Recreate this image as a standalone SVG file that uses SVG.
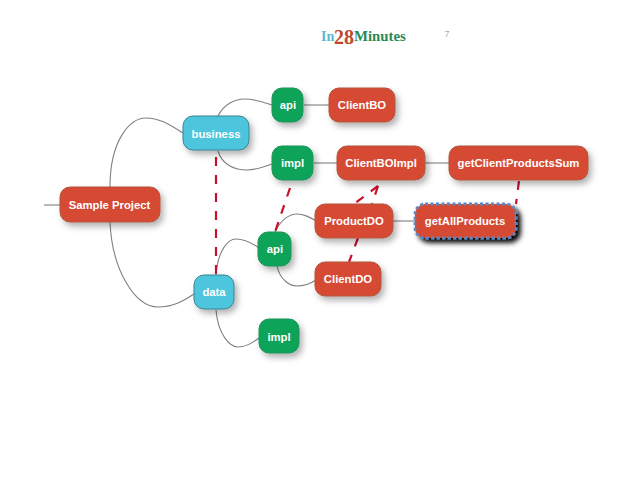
<svg xmlns="http://www.w3.org/2000/svg" width="638" height="493" viewBox="0 0 638 493">
<defs>
<filter id="sh" x="-30%" y="-30%" width="170%" height="180%"><feDropShadow dx="3" dy="4" stdDeviation="3" flood-color="#000" flood-opacity="0.3"/></filter>
<filter id="shb" x="-30%" y="-30%" width="170%" height="180%"><feDropShadow dx="4" dy="4" stdDeviation="2.500" flood-color="#000" flood-opacity="1"/></filter>
</defs>
<style>
.t{font-family:"Liberation Sans",Arial,sans-serif;font-weight:700;font-size:11.300px;fill:#fff;text-anchor:middle}
.r{fill:#d64a30;stroke:#b0563f;stroke-width:1}
.g{fill:#0ba358;stroke:#1a9458;stroke-width:1}
.b{fill:#4dc6dd;stroke:#3b8292;stroke-width:1}
.c{fill:none;stroke:#808080;stroke-width:1.1}
.d{fill:none;stroke:#c8102e;stroke-width:2.2;stroke-dasharray:9 9}
.l{font-family:"Liberation Serif","Times New Roman",serif;font-weight:700}
</style>
<rect width="638" height="493" fill="#fff"/>
<g id="logo">
<text class="l" x="321" y="41" font-size="14" fill="#59bcd0">In</text>
<text class="l" x="334" y="44" font-size="20" fill="#c0492d">28</text>
<text class="l" x="354" y="41" font-size="14.800" fill="#2a8a55">Minutes</text>
<text x="447" y="37" font-family="Liberation Sans,sans-serif" font-size="9" fill="#aaa" text-anchor="middle">7</text>
</g>
<g id="connectors">
<path class="c" d="M44 205H60"/>
<path class="c" d="M110 187C110 140 130 118 146 118C160 118 170 125 183 133"/>
<path class="c" d="M110 222C112 270 135 307 158 307C172 307 182 302 194 294"/>
<path class="c" d="M218 116C224 104 235 99 245 99C255 99 263 102 272 105"/>
<path class="c" d="M218 151C222 165 235 170 247 170C256 170 264 167 272 164"/>
<path class="c" d="M304 105H329"/>
<path class="c" d="M314 163H337"/>
<path class="c" d="M425 163H449"/>
<path class="c" d="M216 275C218 250 228 239 236 239C245 239 252 243 259 248"/>
<path class="c" d="M216 310C218 335 230 347 238 347C246 347 252 343 259 338"/>
<path class="c" d="M275 232C281 219 290 214 297 214C304 214 309 217 316 221"/>
<path class="c" d="M277 266C280 280 290 286 297 286C304 286 310 284 316 280"/>
<path class="c" d="M393 221H415"/>
<path class="d" d="M216 157V275"/>
<path class="d" d="M290 188L275 232"/>
<path class="d" d="M378 186L354 204"/>
<path class="d" d="M378 186L372 204"/>
<path class="d" d="M358 238L349 262"/>
<path class="d" d="M519 181L516 204" stroke-dasharray="3 8 9 3"/>
</g>
<g id="sample-project"><rect class="r" x="60" y="187" width="100" height="35" rx="10" filter="url(#sh)"/><text class="t" x="109.500" y="209">Sample Project</text></g>
<g id="business"><rect class="b" x="183" y="116" width="66" height="34" rx="10" filter="url(#sh)"/><text class="t" x="216" y="138">business</text></g>
<g id="data"><rect class="b" x="194" y="275" width="40" height="34" rx="10" filter="url(#sh)"/><text class="t" x="214" y="296">data</text></g>
<g id="api-business"><rect class="g" x="272" y="88" width="31" height="34" rx="10" filter="url(#sh)"/><text class="t" x="288" y="109">api</text></g>
<g id="impl-business"><rect class="g" x="272" y="146" width="41" height="34" rx="10" filter="url(#sh)"/><text class="t" x="292.500" y="167">impl</text></g>
<g id="api-data"><rect class="g" x="258" y="232" width="33" height="34" rx="10" filter="url(#sh)"/><text class="t" x="275" y="253">api</text></g>
<g id="impl-data"><rect class="g" x="259" y="319" width="40" height="34" rx="10" filter="url(#sh)"/><text class="t" x="279" y="341">impl</text></g>
<g id="clientbo"><rect class="r" x="329" y="88" width="66" height="34" rx="10" filter="url(#sh)"/><text class="t" x="362" y="109">ClientBO</text></g>
<g id="clientboimpl"><rect class="r" x="337" y="146" width="88" height="34" rx="10" filter="url(#sh)"/><text class="t" x="381" y="167">ClientBOImpl</text></g>
<g id="getclientproductssum"><rect class="r" x="449" y="146" width="139" height="34" rx="10" filter="url(#sh)"/><text class="t" x="518.500" y="167">getClientProductsSum</text></g>
<g id="productdo"><rect class="r" x="315" y="204" width="78" height="34" rx="10" filter="url(#sh)"/><text class="t" x="354" y="225">ProductDO</text></g>
<g id="clientdo"><rect class="r" x="315" y="262" width="66" height="34" rx="10" filter="url(#sh)"/><text class="t" x="348" y="283">ClientDO</text></g>
<g id="getallproducts"><rect x="415" y="204" width="101" height="34" rx="10" fill="#d64a30" stroke="#5f86c0" stroke-width="2.800" stroke-dasharray="3 2.500" filter="url(#shb)"/><text class="t" x="465" y="225">getAllProducts</text></g>
</svg>
